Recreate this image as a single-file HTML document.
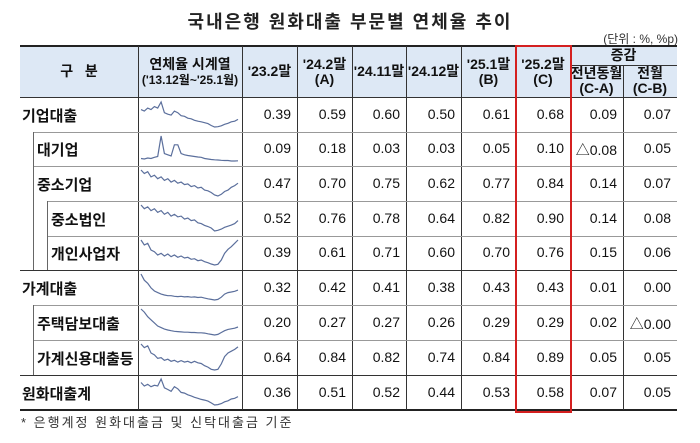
<!DOCTYPE html>
<html><head><meta charset="utf-8">
<style>
body{margin:0;width:700px;height:443px;background:#fff;position:relative;overflow:hidden;font-family:"Liberation Sans","Noto Sans CJK KR","NanumGothic",sans-serif;color:#111}
.a{position:absolute}
.title{left:0;width:700px;top:8px;text-align:center;font-size:18px;font-weight:bold;letter-spacing:2px;color:#222}
.unit{right:22px;top:30px;font-size:12px;color:#333}
.hdr{left:20px;top:46px;width:657px;height:51px;background:#dde8f5}
.hl{position:absolute;height:0}
.vl{position:absolute;width:0;border-left:1px solid #333}
.ht{position:absolute;text-align:center;font-size:14px;font-weight:bold;line-height:15px}
.lab{position:absolute;font-size:15px;font-weight:bold}
.num{position:absolute;text-align:right;font-size:14px}
</style></head><body>
<div class="a title">국내은행 원화대출 부문별 연체율 추이</div>
<div class="a unit">(단위 : %, %p)</div>
<div class="a hdr"></div>
<div id="tbl"></div>
<svg id="spark" class="a" style="left:0;top:0" width="700" height="443"></svg>
<div class="a" style="left:21px;top:412px;font-size:13px;color:#333;letter-spacing:2px">* 은행계정 원화대출금 및 신탁대출금 기준</div>
<div class="a" style="left:515px;top:45px;width:53px;height:364px;border:2px solid #d42020"></div>
<script>
const rowLabels=["기업대출","대기업","중소기업","중소법인","개인사업자","가계대출","주택담보대출","가계신용대출등","원화대출계"];
const rowLevels=[0,1,1,2,2,0,1,1,0];
const v23_2=["0.39","0.09","0.47","0.52","0.39","0.32","0.20","0.64","0.36"];
const v24_2=["0.59","0.18","0.70","0.76","0.61","0.42","0.27","0.84","0.51"];
const v24_11=["0.60","0.03","0.75","0.78","0.71","0.41","0.27","0.82","0.52"];
const v24_12=["0.50","0.03","0.62","0.64","0.60","0.38","0.26","0.74","0.44"];
const v25_1=["0.61","0.05","0.77","0.82","0.70","0.43","0.29","0.84","0.53"];
const v25_2=["0.68","0.10","0.84","0.90","0.76","0.43","0.29","0.89","0.58"];
const vYoY=["0.09","△0.08","0.14","0.14","0.15","0.01","0.02","0.05","0.07"];
const vMoM=["0.07","0.05","0.07","0.08","0.06","0.00","△0.00","0.05","0.05"];
const sBiz=[0.9,0.85,0.95,0.9,1.0,0.95,1.15,0.8,0.75,0.72,0.85,0.8,0.7,0.68,0.62,0.6,0.55,0.52,0.5,0.47,0.44,0.38,0.33,0.34,0.37,0.42,0.45,0.5,0.52,0.58];
const sLarge=[0.3,0.28,0.32,0.3,0.35,0.38,1.2,0.5,0.45,0.4,0.85,0.85,0.5,0.45,0.42,0.4,0.38,0.36,0.35,0.3,0.28,0.26,0.25,0.24,0.23,0.22,0.22,0.2,0.2,0.21];
const sSme=[1.2,1.1,1.15,1.0,1.05,0.95,1.0,0.9,0.95,0.85,0.9,0.82,0.85,0.78,0.8,0.72,0.75,0.68,0.7,0.62,0.6,0.55,0.48,0.45,0.5,0.58,0.62,0.7,0.75,0.82];
const sCorp=[1.2,1.1,1.15,1.05,1.1,1.0,1.05,0.95,1.0,0.9,0.95,0.88,0.9,0.82,0.85,0.78,0.8,0.72,0.7,0.65,0.62,0.58,0.5,0.52,0.55,0.6,0.63,0.66,0.7,0.78];
const sSole=[1.2,1.05,1.1,0.9,0.85,0.75,0.8,0.72,0.78,0.7,0.75,0.68,0.72,0.66,0.68,0.62,0.64,0.58,0.6,0.55,0.52,0.48,0.45,0.47,0.6,0.8,0.92,1.0,1.1,1.2];
const sHouse=[1.2,1.0,0.9,0.75,0.65,0.6,0.55,0.52,0.5,0.5,0.48,0.47,0.48,0.46,0.47,0.45,0.46,0.44,0.45,0.42,0.4,0.38,0.36,0.38,0.45,0.55,0.6,0.62,0.64,0.68];
const sMort=[1.2,1.1,0.95,0.85,0.75,0.65,0.6,0.55,0.52,0.5,0.48,0.47,0.46,0.45,0.45,0.44,0.44,0.43,0.43,0.42,0.4,0.38,0.36,0.38,0.44,0.5,0.54,0.56,0.58,0.62];
const sCredit=[1.2,1.1,1.15,0.95,0.9,0.8,0.82,0.75,0.78,0.72,0.75,0.7,0.74,0.7,0.72,0.68,0.72,0.68,0.66,0.6,0.56,0.5,0.48,0.5,0.65,0.85,0.95,1.0,1.05,1.12];
const sTotal=[1.0,0.9,0.95,0.88,0.92,0.9,1.1,0.85,0.8,0.75,0.88,0.82,0.72,0.7,0.65,0.62,0.58,0.55,0.52,0.5,0.47,0.42,0.36,0.37,0.4,0.45,0.48,0.53,0.55,0.6];
const sparkSeries=[sBiz,sLarge,sSme,sCorp,sSole,sHouse,sMort,sCredit,sTotal];

const tbl=document.getElementById('tbl');
const colX=[20,138,242,297,352,406,461,516,570,623,677];
const rowY=[98,132,166,201,236,270,305,340,375,410];
function add(cls,style,txt){const d=document.createElement('div');d.className=cls;d.style.cssText=style;if(txt!==undefined)d.textContent=txt;tbl.appendChild(d);return d;}
let e=add('hl','left:20px;top:45px;width:657px;border-top:2px solid #222');


e=add('hl','left:20px;top:97px;width:657px;border-top:1px solid #333');


e=add('hl','left:570px;top:65px;width:107px;border-top:1px solid #333');


e=add('hl','left:20px;top:409px;width:657px;border-top:2px solid #222');


for(let i=1;i<colX.length-1;i++){
  const top=(i===9)?65:46;
  e=add('vl','left:'+colX[i]+'px;top:'+top+'px;height:'+(410-top)+'px');
  
  
}
const heads=[["구&nbsp;&nbsp;&nbsp;분"],["연체율 시계열","<span style='font-size:12px'>('13.12월~'25.1월)</span>"],["'23.2말"],["'24.2말","(A)"],["'24.11말"],["'24.12말"],["'25.1말","(B)"],["'25.2말","(C)"]];
heads.forEach((h,i)=>{
  const d=add('ht','left:'+colX[i]+'px;width:'+(colX[i+1]-colX[i])+'px;top:'+(h.length>1?57:64)+'px');
  d.innerHTML=h.join('<br>');
  
  
});
e=add('ht','left:570px;width:107px;top:48px','증감');


e=add('ht','left:570px;width:53px;top:66px');e.innerHTML='전년동월<br>(C-A)';


e=add('ht','left:623px;width:54px;top:66px');e.innerHTML='전월<br>(C-B)';


const indentX=[20,33,47];
const cols=[v23_2,v24_2,v24_11,v24_12,v25_1,v25_2,vYoY,vMoM];
const svg=document.getElementById('spark');
const NS='http://www.w3.org/2000/svg';
rowLabels.forEach((lab,r)=>{
  const y0=rowY[r],y1=rowY[r+1],h=y1-y0;
  const lv=rowLevels[r];
  e=add('lab','left:'+(indentX[lv]+(lv?4:2))+'px;top:'+(y0+h/2-10)+'px',lab);
  
  
  if(r<8){
    const nl=rowLevels[r+1];
    const thick=(nl===0);
    const lx2=thick?20:indentX[nl];
    e=add('hl','left:'+lx2+'px;top:'+y1+'px;width:'+(677-lx2)+'px;border-top:'+(thick?'1.5px solid #333':'1px solid #999'));
    
    
  }
  cols.forEach((c,ci)=>{
    const x0=colX[ci+2],x1=colX[ci+3];
    const d=add('num','left:'+x0+'px;width:'+(x1-x0-6)+'px;top:'+(y0+h/2-9)+'px',c[r]);
    
    
  });
  const s=sparkSeries[r];
  const mn=Math.min(...s),mx=Math.max(...s);
  const sx=i=>141+i*(97/(s.length-1));
  const sy=v=>y0+h-5-(v-mn)/(mx-mn||1)*(h-9);
  const pts=s.map((v,i)=>sx(i).toFixed(1)+','+sy(v).toFixed(1)).join(' ');
  const pl=document.createElementNS(NS,'polyline');
  pl.setAttribute('points',pts);
  pl.setAttribute('fill','none');
  pl.setAttribute('stroke','#5b6f9c');
  pl.setAttribute('stroke-width','1.2');
  
  
  svg.appendChild(pl);
});
e=add('vl','left:33px;top:132px;height:138px;border-left:1px solid #666');


e=add('vl','left:47px;top:201px;height:69px;border-left:1px solid #666');


e=add('vl','left:33px;top:305px;height:70px;border-left:1px solid #666');


</script>
</body></html>
